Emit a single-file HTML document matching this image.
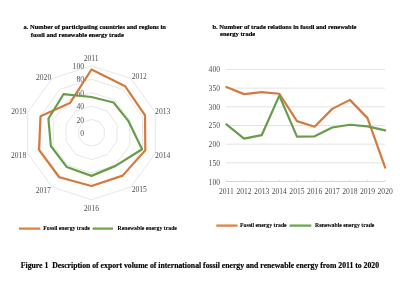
<!DOCTYPE html>
<html><head><meta charset="utf-8"><style>
html,body{margin:0;padding:0;background:#fff;width:400px;height:300px;overflow:hidden}
svg{display:block}
.t{font-family:"Liberation Serif",serif;font-weight:bold;fill:#000;stroke:#000;stroke-width:0.18px}
.ax{font-family:"Liberation Serif",serif;fill:#4F4F4F;font-size:7.6px}
</style></head><body>
<svg width="400" height="300" viewBox="0 0 400 300">
<defs><filter id="bl" x="0" y="0" width="400" height="300" filterUnits="userSpaceOnUse"><feGaussianBlur stdDeviation="0.25"/></filter></defs>
<rect width="400" height="300" fill="#fff"/>
<g filter="url(#bl)">
<g class="t" font-size="6.5">
<text x="23.5" y="28.7">a. Number of participating countries and regions in</text>
<text x="30.8" y="37.0">fossil and renewable energy trade</text>
<text x="212.5" y="28.5">b. Number of trade relations in fossil and renewable</text>
<text x="220" y="36.3">energy trade</text>
</g>
<polygon points="91.50,119.40 99.38,121.96 104.24,128.66 104.24,136.94 99.38,143.64 91.50,146.20 83.62,143.64 78.76,136.94 78.76,128.66 83.62,121.96" fill="none" stroke="#E3E3E3" stroke-width="0.9"/>
<polygon points="91.50,106.00 107.25,111.12 116.99,124.52 116.99,141.08 107.25,154.48 91.50,159.60 75.75,154.48 66.01,141.08 66.01,124.52 75.75,111.12" fill="none" stroke="#E3E3E3" stroke-width="0.9"/>
<polygon points="91.50,92.60 115.13,100.28 129.73,120.38 129.73,145.22 115.13,165.32 91.50,173.00 67.87,165.32 53.27,145.22 53.27,120.38 67.87,100.28" fill="none" stroke="#E3E3E3" stroke-width="0.9"/>
<polygon points="91.50,79.20 123.01,89.44 142.48,116.24 142.48,149.36 123.01,176.16 91.50,186.40 59.99,176.16 40.52,149.36 40.52,116.24 59.99,89.44" fill="none" stroke="#E3E3E3" stroke-width="0.9"/>
<polygon points="91.50,65.80 130.88,78.60 155.22,112.10 155.22,153.50 130.88,187.00 91.50,199.80 52.12,187.00 27.78,153.50 27.78,112.10 52.12,78.60" fill="none" stroke="#E3E3E3" stroke-width="0.9"/>

<g class="ax">
<text x="84" y="136.00" text-anchor="end">0</text>
<text x="84" y="122.60" text-anchor="end">20</text>
<text x="84" y="109.20" text-anchor="end">40</text>
<text x="84" y="95.80" text-anchor="end">60</text>
<text x="84" y="82.40" text-anchor="end">80</text>
<text x="84" y="69.00" text-anchor="end">100</text>
<text x="91.2" y="60.8" text-anchor="middle">2011</text>
<text x="139.3" y="79.1" text-anchor="middle">2012</text>
<text x="155.1" y="114.1" text-anchor="start">2013</text>
<text x="155.1" y="157.6" text-anchor="start">2014</text>
<text x="139.3" y="192.2" text-anchor="middle">2015</text>
<text x="91.4" y="210.6" text-anchor="middle">2016</text>
<text x="43.3" y="193.0" text-anchor="middle">2017</text>
<text x="26.2" y="157.6" text-anchor="end">2018</text>
<text x="26.5" y="113.9" text-anchor="end">2019</text>
<text x="43.6" y="79.6" text-anchor="middle">2020</text>

</g>
<polygon points="91.50,69.49 125.25,86.35 145.03,115.41 145.34,150.29 122.61,175.62 91.50,186.00 59.21,177.25 38.99,149.86 40.52,116.24 69.92,103.10" fill="none" stroke="#D47A3C" stroke-width="2.2" stroke-linejoin="round"/>
<polygon points="91.50,97.02 113.55,102.45 128.27,120.85 142.09,149.24 115.52,165.86 91.50,175.88 66.69,166.95 50.85,146.01 48.42,118.80 63.46,94.21" fill="none" stroke="#689C4C" stroke-width="2.2" stroke-linejoin="round"/>
<line x1="226" x2="385" y1="162.83" y2="162.83" stroke="#E0E0E0" stroke-width="0.9"/>
<line x1="226" x2="385" y1="144.16" y2="144.16" stroke="#E0E0E0" stroke-width="0.9"/>
<line x1="226" x2="385" y1="125.49" y2="125.49" stroke="#E0E0E0" stroke-width="0.9"/>
<line x1="226" x2="385" y1="106.82" y2="106.82" stroke="#E0E0E0" stroke-width="0.9"/>
<line x1="226" x2="385" y1="88.15" y2="88.15" stroke="#E0E0E0" stroke-width="0.9"/>
<line x1="226" x2="385" y1="69.48" y2="69.48" stroke="#E0E0E0" stroke-width="0.9"/>
<line x1="226" x2="385" y1="181.50" y2="181.50" stroke="#D0D0D0" stroke-width="0.9"/>
<line x1="226.40" x2="226.40" y1="181.50" y2="180.00" stroke="#D0D0D0" stroke-width="0.8"/>
<line x1="244.04" x2="244.04" y1="181.50" y2="180.00" stroke="#D0D0D0" stroke-width="0.8"/>
<line x1="261.68" x2="261.68" y1="181.50" y2="180.00" stroke="#D0D0D0" stroke-width="0.8"/>
<line x1="279.32" x2="279.32" y1="181.50" y2="180.00" stroke="#D0D0D0" stroke-width="0.8"/>
<line x1="296.96" x2="296.96" y1="181.50" y2="180.00" stroke="#D0D0D0" stroke-width="0.8"/>
<line x1="314.60" x2="314.60" y1="181.50" y2="180.00" stroke="#D0D0D0" stroke-width="0.8"/>
<line x1="332.24" x2="332.24" y1="181.50" y2="180.00" stroke="#D0D0D0" stroke-width="0.8"/>
<line x1="349.88" x2="349.88" y1="181.50" y2="180.00" stroke="#D0D0D0" stroke-width="0.8"/>
<line x1="367.52" x2="367.52" y1="181.50" y2="180.00" stroke="#D0D0D0" stroke-width="0.8"/>
<line x1="385.16" x2="385.16" y1="181.50" y2="180.00" stroke="#D0D0D0" stroke-width="0.8"/>

<g class="ax">
<text x="220" y="184.50" text-anchor="end">100</text>
<text x="220" y="165.83" text-anchor="end">150</text>
<text x="220" y="147.16" text-anchor="end">200</text>
<text x="220" y="128.49" text-anchor="end">250</text>
<text x="220" y="109.82" text-anchor="end">300</text>
<text x="220" y="91.15" text-anchor="end">350</text>
<text x="220" y="72.48" text-anchor="end">400</text>
<text x="226.40" y="194" text-anchor="middle">2011</text>
<text x="244.04" y="194" text-anchor="middle">2012</text>
<text x="261.68" y="194" text-anchor="middle">2013</text>
<text x="279.32" y="194" text-anchor="middle">2014</text>
<text x="296.96" y="194" text-anchor="middle">2015</text>
<text x="314.60" y="194" text-anchor="middle">2016</text>
<text x="332.24" y="194" text-anchor="middle">2017</text>
<text x="349.88" y="194" text-anchor="middle">2018</text>
<text x="367.52" y="194" text-anchor="middle">2019</text>
<text x="385.16" y="194" text-anchor="middle">2020</text>

</g>
<polyline points="226.40,87.03 244.04,94.12 261.68,92.07 279.32,93.75 296.96,121.16 314.60,126.76 332.24,108.87 349.88,99.87 367.52,118.13 385.16,167.68" fill="none" stroke="#D47A3C" stroke-width="2.2" stroke-linejoin="round" stroke-linecap="round"/>
<polyline points="226.40,124.44 244.04,138.56 261.68,135.20 279.32,95.62 296.96,136.69 314.60,136.32 332.24,127.47 349.88,124.74 367.52,126.35 385.16,130.34" fill="none" stroke="#689C4C" stroke-width="2.2" stroke-linejoin="round" stroke-linecap="round"/>
<g class="t" font-size="5.75" style="stroke-width:0.08px">
<line x1="19" x2="40.4" y1="228.6" y2="228.6" stroke="#DC8444" stroke-width="2.3"/>
<text x="43.3" y="230.1">Fossil energy trade</text>
<line x1="92.5" x2="113" y1="228.6" y2="228.6" stroke="#6EA64E" stroke-width="2.3"/>
<text x="117.5" y="230.1">Renewable energy trade</text>
<line x1="216.3" x2="237.5" y1="225.6" y2="225.6" stroke="#DC8444" stroke-width="2.3"/>
<text x="240" y="227.1">Fossil energy trade</text>
<line x1="289.5" x2="311.3" y1="225.6" y2="225.6" stroke="#6EA64E" stroke-width="2.3"/>
<text x="315" y="227.1">Renewable energy trade</text>
</g>
<text class="t" font-size="7.73" x="20.8" y="267.5" xml:space="preserve">Figure 1  Description of export volume of international fossil energy and renewable energy from 2011 to 2020</text>
</g>
</svg>
</body></html>
